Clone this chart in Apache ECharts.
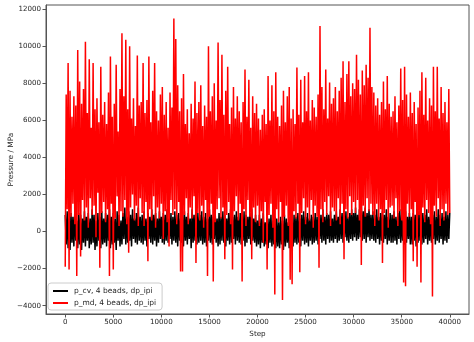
<!DOCTYPE html>
<html>
<head>
<meta charset="utf-8">
<script src="https://cdn.jsdelivr.net/npm/echarts@6/dist/echarts.min.js"></script>
<style>
  html, body { margin: 0; padding: 0; background: #fff; }
  #chart { width: 474px; height: 342px; }
</style>
</head>
<body>
<div id="chart"></div>
<script>
// Step spacing between successive samples
const STEP_STRIDE = 100;

const seriesNames = ['p_cv, 4 beads, dp_ipi', 'p_md, 4 beads, dp_ipi'];

// p_cv (black), one value per 100 steps, 0..40000
const pCv = [
  900,-700,1100,-900,700,-1000,1000,-600,800,-800,1200,-500,600,-900,1000,-700,900,-1000,700,-600,
  1100,-800,800,-500,1000,-900,700,-700,1200,-600,900,-1000,600,-800,1000,-500,800,-900,1100,-700,
  700,-600,1000,-800,900,-500,1200,-900,800,-700,1000,-600,700,-1000,1100,-500,900,-800,600,-700,
  1000,-400,1300,-700,800,-600,1100,-500,900,-800,1200,-400,700,-600,1000,-700,1300,-500,800,-600,
  900,-700,1100,-500,700,-800,1000,-400,800,-600,1200,-700,900,-500,1000,-800,700,-600,1100,-400,
  800,-600,1000,-700,900,-500,1200,-600,700,-400,1000,-700,800,-500,1100,-600,900,-800,1000,-500,
  700,-600,900,-800,1100,-500,800,-700,1000,-400,700,-900,1200,-600,900,-500,800,-700,1000,-600,
  900,-500,1100,-700,800,-600,1000,-800,700,-500,1200,-600,900,-700,800,-400,1000,-600,700,-800,
  1000,-700,800,-500,1100,-600,900,-800,700,-500,1000,-700,1200,-600,800,-400,900,-700,1100,-500,
  800,-600,1000,-700,700,-500,1100,-800,900,-600,800,-400,1000,-700,1200,-500,700,-600,900,-800,
  600,-700,900,-900,700,-600,1000,-800,500,-700,800,-900,700,-600,900,-800,600,-700,800,-900,
  700,-800,500,-900,800,-700,600,-1000,900,-800,700,-600,500,-900,800,-700,600,-800,900,-600,
  800,-700,1000,-600,700,-800,900,-500,1100,-700,800,-600,1000,-800,700,-500,900,-700,800,-600,
  1000,-500,800,-700,1100,-400,900,-600,1200,-500,800,-700,1000,-400,900,-600,1100,-500,700,-600,
  900,-400,1100,-600,800,-500,1200,-400,1000,-600,900,-300,1100,-500,800,-600,1000,-400,1200,-500,
  1000,-300,1300,-500,900,-400,1200,-300,1400,-500,1100,-400,1300,-600,1000,-300,1200,-500,900,-400,
  1100,-500,900,-600,1200,-400,800,-700,1000,-500,1100,-600,900,-400,1200,-700,800,-500,1000,-600,
  900,-600,1100,-500,800,-700,1000,-400,1200,-600,900,-500,700,-700,1100,-600,800,-400,1000,-700,
  800,-700,1000,-500,900,-800,700,-600,1100,-500,800,-700,1000,-600,900,-400,1200,-700,800,-500,
  1000,-600,900,-400,1100,-700,800,-500,1200,-600,900,-400,1000,-700,800,-500,1100,-600,900,-400,
  1000
];

// p_md (red), one value per 100 steps, 0..40000
const pMd = [
  -1900,7400,1200,9100,-2050,7600,800,6200,1500,7300,400,6800,-2400,9800,900,8100,-1350,6900,1700,7700,
  600,10250,1300,6400,200,9300,1800,5600,900,9100,1400,6600,-300,7200,2100,5900,-1950,8900,1000,6300,
  1600,7000,500,5800,1200,7500,-2400,9450,1500,6200,-2050,6900,700,9000,1900,5400,300,7700,1100,10700,
  800,7300,1700,10350,400,6600,-1150,10000,1300,6100,2000,7200,600,5700,1400,9500,300,6800,1800,7000,
  1000,9100,300,6400,1600,7100,-1600,9450,1200,5900,600,7600,1900,9100,200,6500,1300,6000,700,7400,
  1500,7800,-400,6300,1100,7000,500,5600,-800,7500,1700,6700,900,11500,1200,10400,400,7900,1600,6500,
  -2150,7200,-2150,8500,900,5800,1800,6600,400,5300,1300,6900,700,6100,1900,8100,-1700,6400,1000,7000,
  600,7900,1400,5700,200,6800,1700,6200,-2400,10000,800,6500,1500,7300,-2700,8000,500,6000,1200,10200,
  1800,7100,700,9550,1300,6300,-1500,7600,900,8900,1600,5800,400,6700,-2050,7800,1100,6100,1900,7300,
  600,6500,1500,5900,-2700,7000,1200,8750,300,6200,1700,8200,800,5600,-1500,7300,1300,6400,500,6900,
  1400,6100,300,5500,1100,6300,-600,6600,1600,5800,-2050,8400,900,6000,1500,7900,200,6500,-3400,8600,
  1200,6200,500,5700,1600,6800,-3700,7600,800,5900,1400,7300,300,7800,-2600,6100,-2850,6600,1100,5800,
  700,8850,1500,6300,-2200,8200,1000,5900,1800,8400,400,6500,1300,8600,600,6000,1700,7100,200,6700,
  1400,6200,800,7400,-1950,11100,1200,7800,500,6600,1600,8750,900,6100,1900,8050,300,6900,1300,7200,
  1100,7800,600,6500,1800,7600,400,8300,1500,9200,-1500,7000,1200,8500,700,9200,1900,7300,900,8000,
  1600,7700,1000,9550,1700,8200,600,7400,-1800,8700,1400,7900,800,9000,1800,8300,1100,11000,1500,7800,
  900,7500,300,6800,1500,7200,600,6300,1200,7000,-1700,8100,1000,6600,1700,8400,200,6900,1300,6200,
  1400,6500,700,7300,1800,5900,300,6800,1100,8800,600,7100,-2750,8900,-2950,7400,1500,6200,800,7500,
  1200,6400,-1600,7000,1600,5800,-1900,6700,900,7600,-2750,8600,1300,6300,500,8300,1700,6000,1000,7200,
  400,6800,-3500,8900,1400,6500,800,8900,1800,6100,300,7800,1200,6400,600,7000,1500,5900,900,7700,
  1000
];

// Tick labels shown on the axes
const xTicks = [0, 5000, 10000, 15000, 20000, 25000, 30000, 35000, 40000];
const yTicks = [-4000, -2000, 0, 2000, 4000, 6000, 8000, 10000, 12000];

const toPairs = arr => arr.map((v, i) => [i * STEP_STRIDE, v]);
const fmt = v => String(v).replace('-', '\u2212');

const chart = echarts.init(document.getElementById('chart'), null, { renderer: 'canvas' });
const FONT = 'DejaVu Sans';
const AXIS_COLOR = '#555';
const TEXT_COLOR = '#262626';

chart.setOption({
  animation: false,
  backgroundColor: '#fff',
  textStyle: { fontFamily: FONT },
  grid: {
    left: 46, right: 5, top: 5, bottom: 28,
    containLabel: false,
    outerBoundsMode: 'none',
    show: true, borderColor: AXIS_COLOR, borderWidth: 1, backgroundColor: 'transparent'
  },
  legend: {
    orient: 'vertical',
    left: 48, top: 283,
    padding: [4, 6, 3, 4],
    itemWidth: 15, itemHeight: 8, itemGap: 4,
    backgroundColor: 'rgba(255,255,255,0.85)',
    borderColor: '#cccccc', borderWidth: 1, borderRadius: 3,
    itemStyle: { opacity: 0 },
    textStyle: { fontFamily: FONT, fontSize: 7.5, color: TEXT_COLOR, padding: [0, 0, 0, 1] },
    data: seriesNames
  },
  xAxis: {
    type: 'value',
    min: -2000, max: 42000,
    name: 'Step',
    nameLocation: 'middle',
    nameGap: 17,
    nameMoveOverlap: false,
    nameTextStyle: { fontFamily: FONT, fontSize: 7.2, color: TEXT_COLOR },
    axisLine: { show: true, onZero: false, lineStyle: { color: AXIS_COLOR, width: 1 } },
    axisTick: { show: true, inside: false, length: 3.5, lineStyle: { color: AXIS_COLOR }, customValues: xTicks },
    axisLabel: { fontFamily: FONT, fontSize: 7.1, color: TEXT_COLOR, margin: 5, customValues: xTicks, formatter: fmt },
    splitLine: { show: false }
  },
  yAxis: {
    type: 'value',
    min: -4450, max: 12230,
    name: 'Pressure / MPa',
    nameLocation: 'middle',
    nameGap: 31,
    nameMoveOverlap: false,
    nameRotate: 90,
    nameTextStyle: { fontFamily: FONT, fontSize: 7.4, color: TEXT_COLOR },
    axisLine: { show: true, onZero: false, lineStyle: { color: AXIS_COLOR, width: 1 } },
    axisTick: { show: true, inside: false, length: 3.5, lineStyle: { color: AXIS_COLOR }, customValues: yTicks },
    axisLabel: { fontFamily: FONT, fontSize: 7.1, color: TEXT_COLOR, margin: 5, customValues: yTicks, formatter: fmt },
    splitLine: { show: false }
  },
  series: [
    {
      name: seriesNames[0],
      type: 'line',
      data: toPairs(pCv),
      symbol: 'none',
      showSymbol: false,
      lineStyle: { color: '#000000', width: 1.5 },
      itemStyle: { color: '#000000' },
      z: 2
    },
    {
      name: seriesNames[1],
      type: 'line',
      data: toPairs(pMd),
      symbol: 'none',
      showSymbol: false,
      lineStyle: { color: '#ff0000', width: 1.5 },
      itemStyle: { color: '#ff0000' },
      z: 3
    }
  ]
});
</script>
</body>
</html>
